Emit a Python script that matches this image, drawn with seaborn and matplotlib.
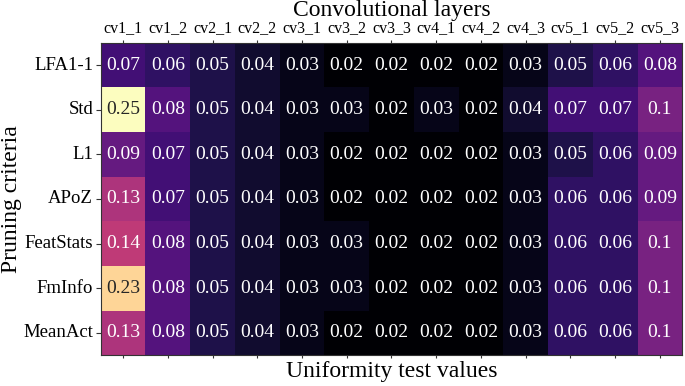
import seaborn as sns
import matplotlib.pyplot as plt
import numpy as np
import pandas as pd

# Capas convolucionales (columnas) y criterios de poda (filas)
layers = ["cv1_1", "cv1_2", "cv2_1", "cv2_2", "cv3_1", "cv3_2", "cv3_3",
          "cv4_1", "cv4_2", "cv4_3", "cv5_1", "cv5_2", "cv5_3"]
criteria = ["LFA1-1", "Std", "L1", "APoZ", "FeatStats", "FmInfo", "MeanAct"]

lfa = [0.07, 0.06, 0.05, 0.04, 0.03, 0.02, 0.02, 0.02, 0.02, 0.03, 0.05, 0.06, 0.08]
std = [0.25, 0.08, 0.05, 0.04, 0.03, 0.03, 0.02, 0.03, 0.02, 0.04, 0.07, 0.07, 0.10]
l1 = [0.09, 0.07, 0.05, 0.04, 0.03, 0.02, 0.02, 0.02, 0.02, 0.03, 0.05, 0.06, 0.09]
apoz = [0.13, 0.07, 0.05, 0.04, 0.03, 0.02, 0.02, 0.02, 0.02, 0.03, 0.06, 0.06, 0.09]
featstats = [0.14, 0.08, 0.05, 0.04, 0.03, 0.03, 0.02, 0.02, 0.02, 0.03, 0.06, 0.06, 0.10]
fminfo = [0.23, 0.08, 0.05, 0.04, 0.03, 0.03, 0.02, 0.02, 0.02, 0.03, 0.06, 0.06, 0.10]
meanact = [0.13, 0.08, 0.05, 0.04, 0.03, 0.02, 0.02, 0.02, 0.02, 0.03, 0.06, 0.06, 0.10]

df = pd.DataFrame([lfa, std, l1, apoz, featstats, fminfo, meanact],
                  index=criteria, columns=layers)

plt.rcParams['font.family'] = ['Liberation Serif', 'DejaVu Serif']

fig, ax = plt.subplots(figsize=(6.85, 3.86), dpi=100)
sns.heatmap(df, annot=True, fmt=".2g", cmap="magma", cbar=False, ax=ax,
            annot_kws={"size": 14})

ax.tick_params(top=True, labeltop=True, bottom=True, labelbottom=False,
               color="#333333", length=2.5, pad=2)
ax.tick_params(axis="x", labelsize=11.5, rotation=0)
ax.tick_params(axis="y", labelsize=13.5, rotation=0, left=True, length=3.5)
for s in ax.spines.values():
    s.set_visible(True)
    s.set_color("#333333")

# titulo arriba, etiqueta abajo, posiciones fijas
ax.set_title("Convolutional layers", fontsize=17, y=1.086, pad=0)
ax.set_xlabel("Uniformity test values", fontsize=17)
ax.xaxis.set_label_coords(0.5, -0.02)
ax.set_ylabel("Pruning criteria", fontsize=17)
ax.yaxis.set_label_coords(-0.136, 0.5)

plt.subplots_adjust(left=0.147, right=0.996, top=0.889, bottom=0.080)
plt.savefig("out.png", dpi=100)
